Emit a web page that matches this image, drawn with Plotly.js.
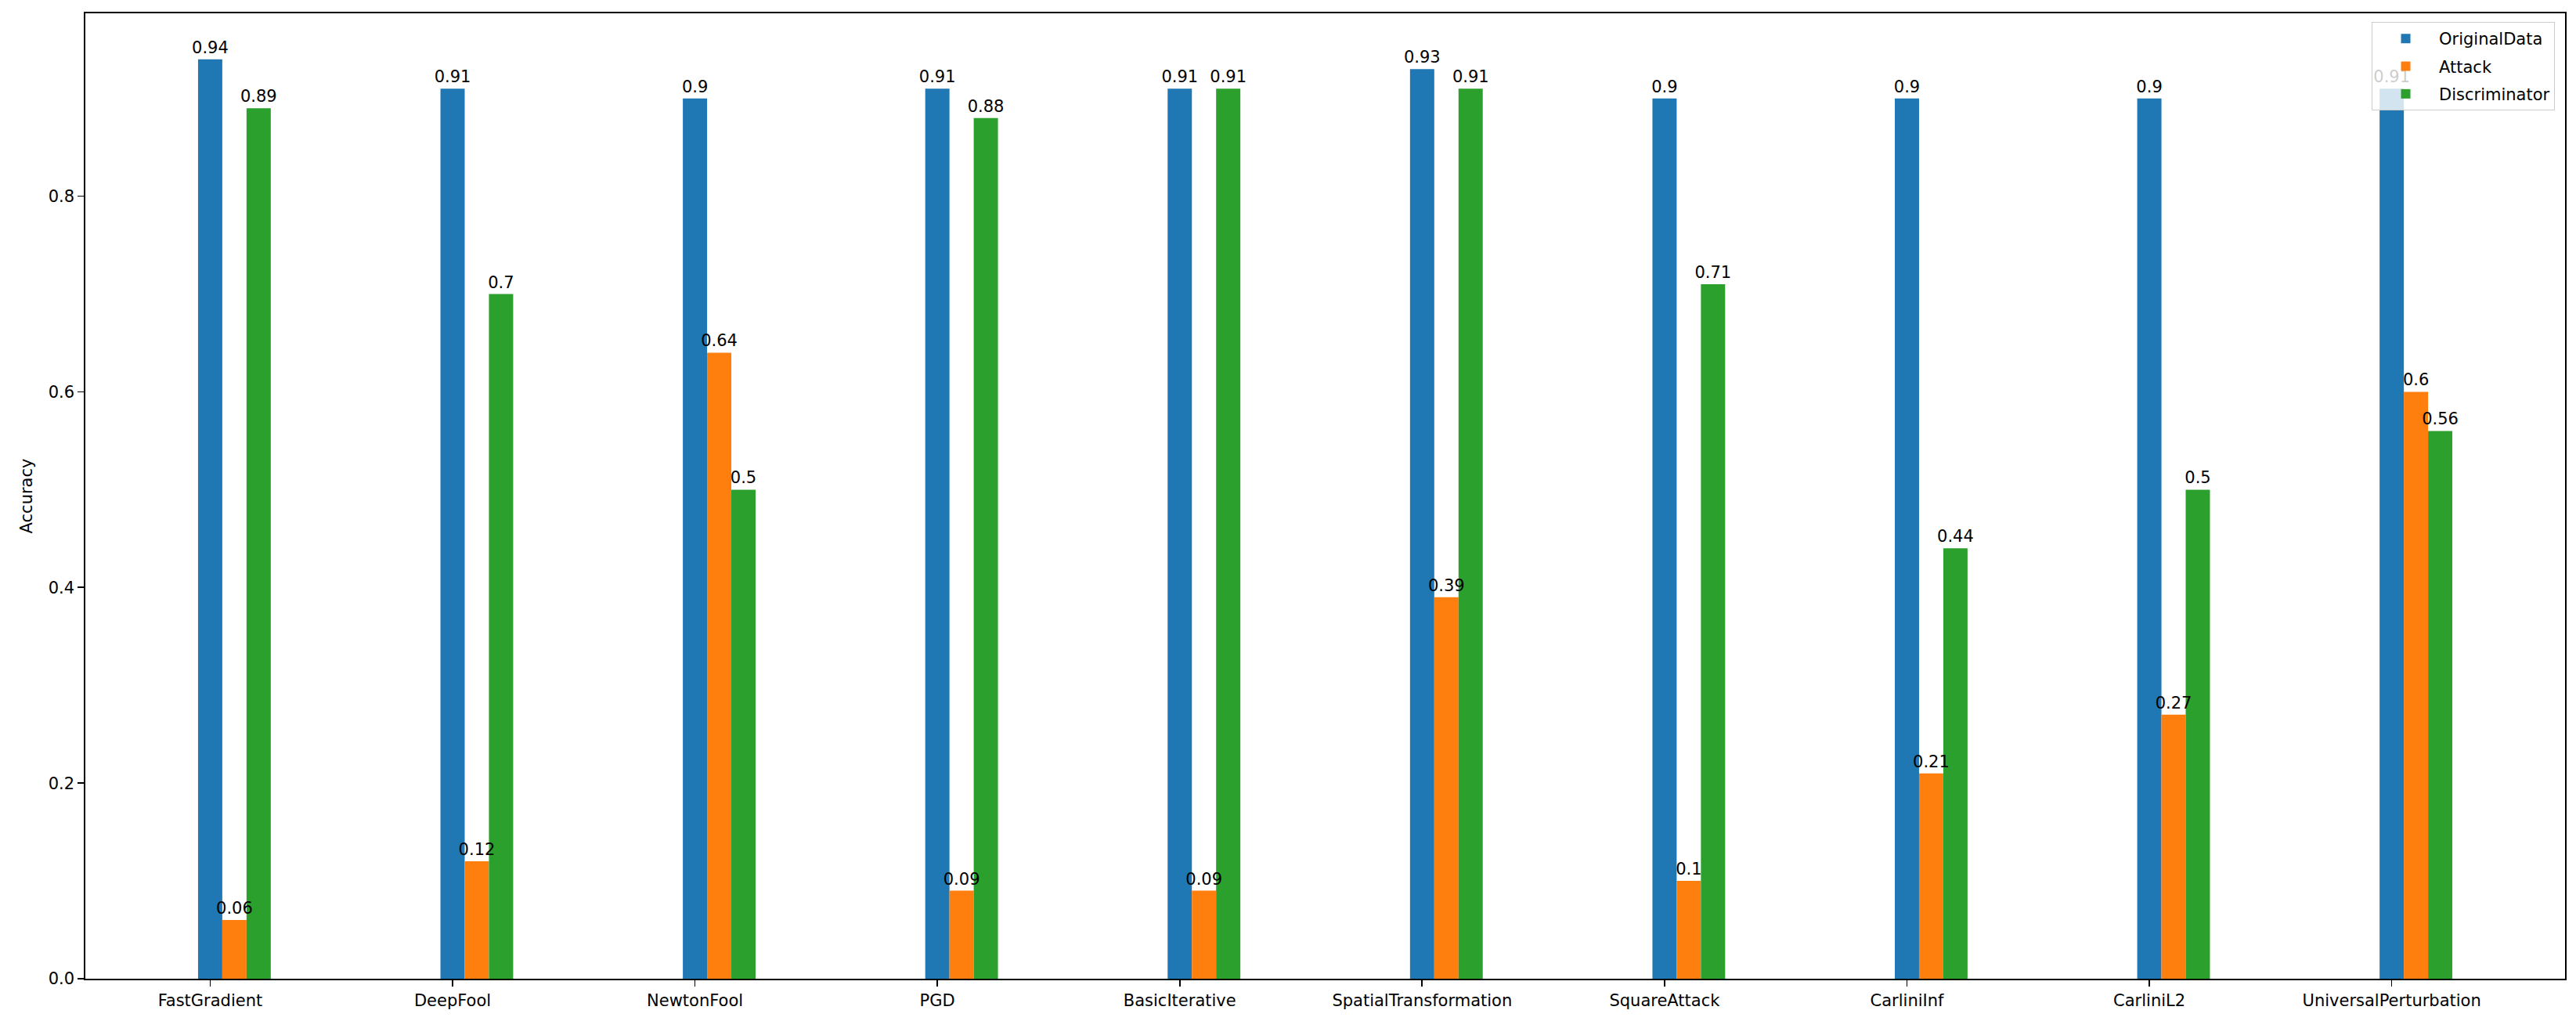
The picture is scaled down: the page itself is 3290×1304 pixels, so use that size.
<!DOCTYPE html>
<html>
<head>
<meta charset="utf-8">
<script src="https://cdn.plot.ly/plotly-3.0.1.min.js"></script>
<style>
html,body{margin:0;padding:0;background:#fff;}
#chart{width:3290px;height:1304px;}
</style>
</head>
<body>
<div id="chart"></div>
<script>
const categories = ["FastGradient","DeepFool","NewtonFool","PGD","BasicIterative","SpatialTransformation","SquareAttack","CarliniInf","CarliniL2","UniversalPerturbation"];
const originalData = [0.94,0.91,0.9,0.91,0.91,0.93,0.9,0.9,0.9,0.91];
const attack = [0.06,0.12,0.64,0.09,0.09,0.39,0.1,0.21,0.27,0.6];
const discriminator = [0.89,0.7,0.5,0.88,0.91,0.91,0.71,0.44,0.5,0.56];
const seriesNames = ["OriginalData","Attack","Discriminator"];
const colors = ["#1f77b4","#ff7f0e","#2ca02c"];

const idx = categories.map((c,i)=>i);
const barWidth = 0.1;
const series = [originalData, attack, discriminator];
const offsets = [-0.05, 0.05, 0.15];
const font = {family:"DejaVu Sans", size:21, color:"#000"};

// solid bars (legend entries)
const barTraces = series.map((vals,k)=>({
  type:"bar",
  name:seriesNames[k],
  legendgroup:"g"+k,
  x:idx,
  y:vals,
  width:barWidth,
  offset:offsets[k],
  marker:{color:colors[k], line:{width:0}},
  hoverinfo:"skip"
}));

// transparent copies carrying the value labels, drawn above all bars
const labelTraces = series.map((vals,k)=>({
  type:"bar",
  name:seriesNames[k]+" labels",
  showlegend:false,
  x:idx,
  y:vals,
  width:barWidth,
  offset:offsets[k],
  marker:{color:"rgba(0,0,0,0)", line:{width:0}},
  text:vals.map(v=>String(v)),
  textposition:"outside",
  textangle:0,
  constraintext:"none",
  cliponaxis:false,
  textfont:font,
  hoverinfo:"skip"
}));

const layout = {
  width:3290, height:1304,
  margin:{l:109, r:14, t:17, b:54},
  paper_bgcolor:"#fff", plot_bgcolor:"#fff",
  font:font,
  barmode:"overlay",
  showlegend:true,
  legend:{
    x:0.9959, y:0.991, xanchor:"right", yanchor:"top",
    bgcolor:"rgba(255,255,255,0.8)", bordercolor:"#cccccc", borderwidth:1,
    font:{family:"DejaVu Sans", size:21, color:"#000"},
    tracegroupgap:5, itemwidth:75
  },
  xaxis:{
    range:[-0.515, 9.715],
    tickmode:"array", tickvals:idx, ticktext:categories,
    showgrid:false, zeroline:false,
    showline:true, mirror:true, linecolor:"#000", linewidth:1.7,
    ticks:"outside", ticklen:8, tickwidth:1.7, tickcolor:"#000",
    tickfont:font, fixedrange:true
  },
  yaxis:{
    range:[0, 0.987],
    tickvals:[0,0.2,0.4,0.6,0.8], tickformat:".1f",
    showgrid:false, zeroline:false,
    showline:true, mirror:true, linecolor:"#000", linewidth:1.7,
    ticks:"outside", ticklen:8, tickwidth:1.7, tickcolor:"#000",
    tickfont:font,
    title:{text:"Accuracy", font:font, standoff:14},
    fixedrange:true
  }
};

Plotly.newPlot("chart", barTraces.concat(labelTraces), layout, {displayModeBar:false, staticPlot:true});
</script>
</body>
</html>
